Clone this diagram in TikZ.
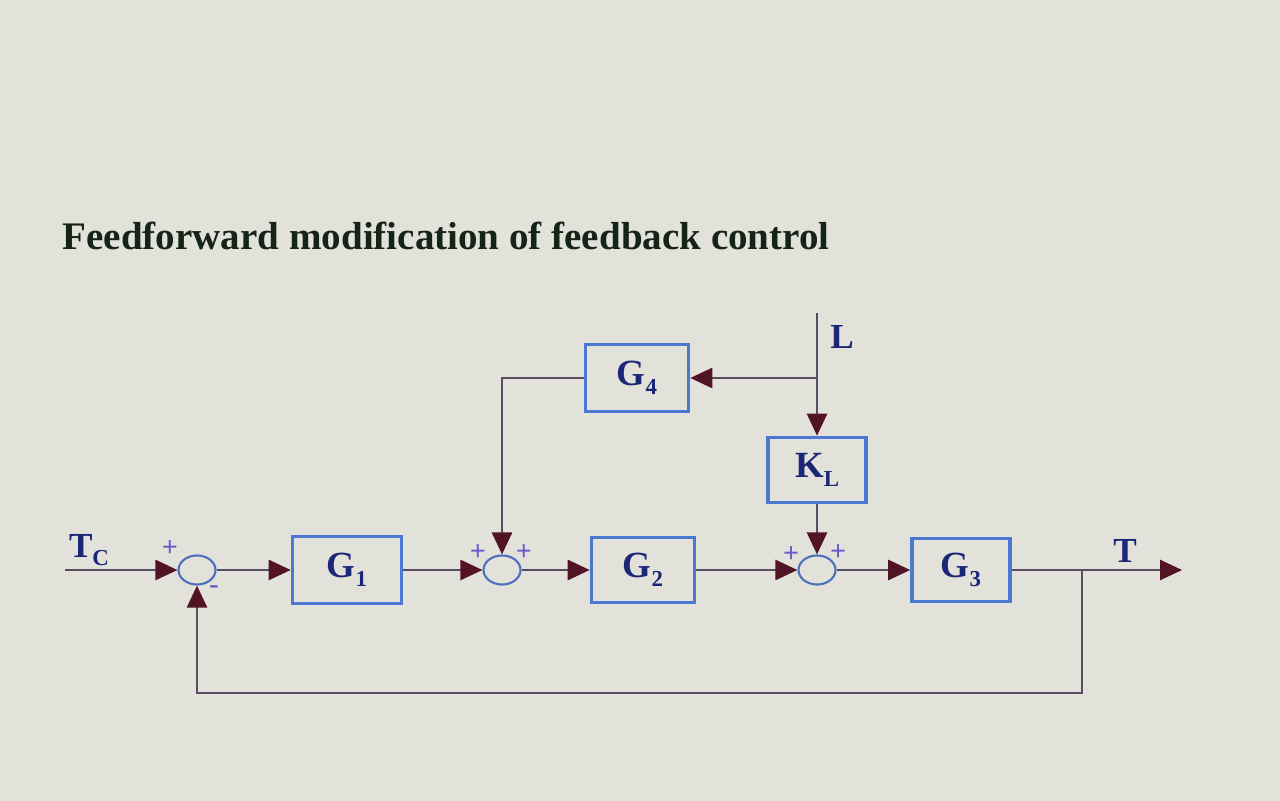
\documentclass[tikz,border=0pt]{standalone}
\usepackage{fontspec}
\setmainfont{Liberation Serif}
\usetikzlibrary{arrows.meta,shapes.geometric}

\definecolor{paper}{RGB}{226,226,219}
\definecolor{wire}{RGB}{88,78,98}
\definecolor{tipred}{RGB}{82,20,36}
\definecolor{boxblue}{RGB}{74,120,210}
\definecolor{inkblue}{RGB}{28,38,118}
\definecolor{signv}{RGB}{110,90,200}
\definecolor{titleink}{RGB}{22,36,24}

\newcommand{\lowidx}[1]{\raisebox{-0.5ex}{\fontsize{6.5}{7}\selectfont #1}}

\begin{document}
\begin{tikzpicture}[x=0.01cm, y=-0.01cm,
    block/.style={draw=boxblue, line width=1pt, minimum width=1.03cm, minimum height=0.65cm,
        text=inkblue, font=\bfseries\fontsize{10.5}{12}\selectfont},
    sumjunc/.style={draw=boxblue!80!wire, line width=0.6pt, ellipse, minimum width=0.37cm,
        minimum height=0.29cm, inner sep=0pt},
    wireline/.style={draw=wire, line width=0.75pt},
    sig/.style={wireline, -{Triangle[length=0.22cm, width=0.2cm, color=tipred]}},
    sgn/.style={text=signv, font=\bfseries\fontsize{8}{8}\selectfont, inner sep=0pt},
    lbl/.style={text=inkblue, font=\bfseries\fontsize{10}{12}\selectfont}]

    \fill[paper] (0,0) rectangle (1280,801);
    \useasboundingbox (0,0) rectangle (1280,801);

    \node[anchor=base west, inner sep=0pt, text=titleink, font=\bfseries\fontsize{11.1}{12}\selectfont] (title) at (62,250)
        {Feedforward modification of feedback control};

    % main path
    \node[sumjunc] (s1) at (197,570) {};
    \node[block, minimum width=1.09cm, minimum height=0.67cm] (g1) at (347,570) {G\lowidx{1}};
    \node[sumjunc] (s2) at (502,570) {};
    \node[block] (g2) at (643,570) {G\lowidx{2}};
    \node[sumjunc] (s3) at (817,570) {};
    \node[block, minimum width=0.98cm, minimum height=0.63cm] (g3) at (961,570) {G\lowidx{3}};

    % feedforward part
    \node[block, minimum width=0.98cm] (kl) at (817,470) {K\lowidx{L}};
    \node[block, minimum height=0.67cm] (g4) at (637,378) {G\lowidx{4}};

    \coordinate (tcin) at (65,570);
    \coordinate (lin) at (817,313);
    \coordinate (lsplit) at (817,378);
    \coordinate (g4corner) at (502,378);
    \coordinate (tsplit) at (1082,570);
    \coordinate (tout) at (1182,570);
    \coordinate (fbright) at (1082,693);
    \coordinate (fbleft) at (197,693);

    \draw[sig] (tcin) -- (s1);
    \draw[sig] (s1) -- (g1);
    \draw[sig] (g1) -- (s2);
    \draw[sig] (s2) -- (g2);
    \draw[sig] (g2) -- (s3);
    \draw[sig] (s3) -- (g3);
    \draw[sig] (g3) -- (tout);
    \draw[sig] (tsplit) -- (fbright) -- (fbleft) -- (s1);

    \draw[wireline] (lin) -- (lsplit);
    \draw[sig] (lsplit) -- (kl);
    \draw[sig] (kl) -- (s3);
    \draw[sig] (lsplit) -- (g4);
    \draw[sig] (g4) -- (g4corner) -- (s2);

    % labels
    \node[lbl] (tclbl) at (89,550) {T\lowidx{C}};
    \node[lbl] (tlbl) at (1125,551) {T};
    \node[lbl] (llbl) at (842,337) {L};

    % signs
    \node[sgn] at (170,549) {+};
    \node[sgn] at (214,590) {-};
    \node[sgn] at (478,553) {+};
    \node[sgn] at (524,553) {+};
    \node[sgn] at (791,555) {+};
    \node[sgn] at (838,553) {+};

\end{tikzpicture}
\end{document}
